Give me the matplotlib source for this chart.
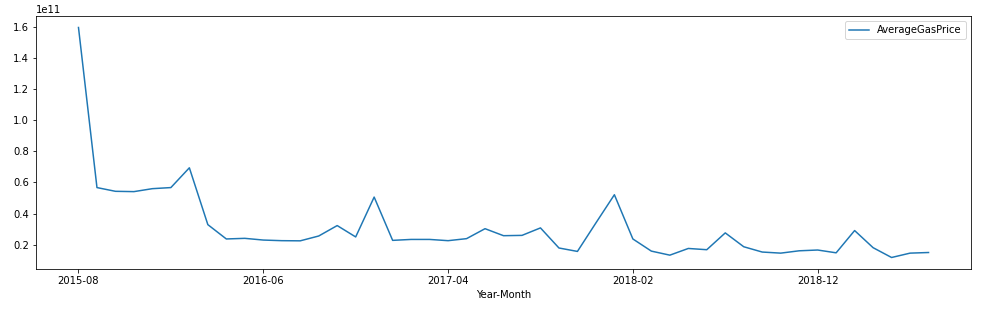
import pandas as pd
import matplotlib
matplotlib.use("Agg")
import matplotlib.pyplot as plt

# Monthly average gas price (wei), 2015-08 .. 2019-06
months = [str(p) for p in pd.period_range("2015-08", "2019-06", freq="M")]
avg_gas_price_e11 = [
    1.595, 0.567, 0.543, 0.541, 0.560, 0.567, 0.694, 0.329, 0.237, 0.241,
    0.230, 0.226, 0.225, 0.256, 0.323, 0.250, 0.506, 0.228, 0.234, 0.234,
    0.226, 0.239, 0.303, 0.258, 0.260, 0.308, 0.179, 0.157, 0.340, 0.521,
    0.237, 0.159, 0.133, 0.176, 0.168, 0.276, 0.187, 0.153, 0.146, 0.161,
    0.166, 0.148, 0.291, 0.181, 0.118, 0.146, 0.150,
]
values = [v * 1e11 for v in avg_gas_price_e11]
tick_step = 10

df = pd.DataFrame({"AverageGasPrice": values}, index=pd.Index(months, name="Year-Month"))

fig = plt.figure(figsize=(994 / 72, 320 / 72), dpi=72)
ax = fig.add_axes([0.0362, 0.1594, 0.9407, 0.7906])

pos = list(range(len(df)))
ax.plot(pos, df["AverageGasPrice"], color="C0", linewidth=1.5, label="AverageGasPrice")
ax.set_xticks(pos[::tick_step])
ax.set_xticklabels(df.index[::tick_step])
ax.set_xlabel(df.index.name)
ax.legend(loc="upper right")

fig.savefig("out.png", dpi=72)
